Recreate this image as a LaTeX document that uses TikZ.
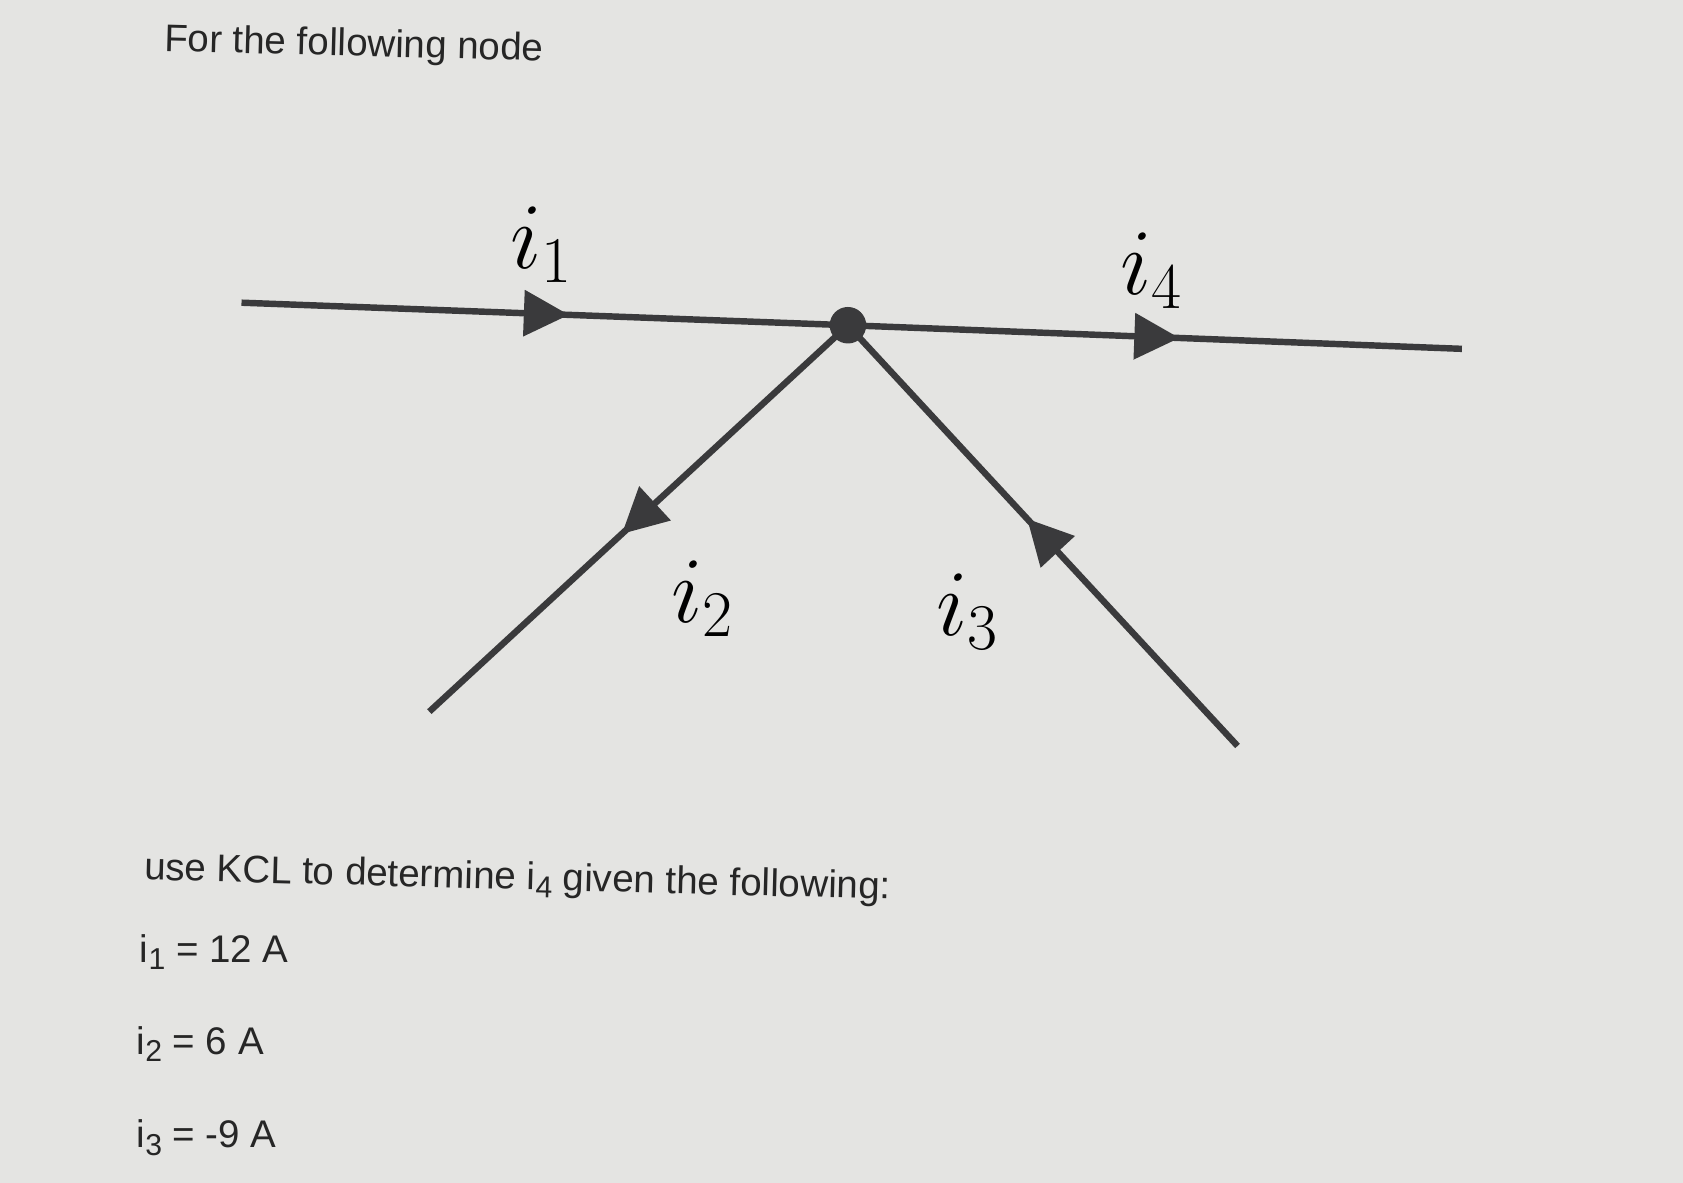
\documentclass[tikz,border=0pt]{standalone}
\usepackage{fontspec}
\setmainfont{Liberation Sans}
\usetikzlibrary{decorations.markings,arrows.meta}
\definecolor{wire}{HTML}{3A3A3C}
\definecolor{paper}{HTML}{E4E4E2}
\newcommand{\sbs}[1]{\raisebox{-0.35ex}{\fontsize{8}{9}\selectfont #1}}
\tikzset{
  px/.style={x=0.01cm,y=-0.01cm},
  wireline/.style={draw=wire,line width=0.06cm,
    postaction={decorate},decoration={markings,
      mark=at position 0.54 with {\arrow[wire]{Triangle[length=0.42cm,width=0.42cm]}}}},
  lbl/.style={font=\fontsize{23}{28}\selectfont},
  txt/.style={font=\fontsize{10.2}{12}\selectfont,anchor=west,rotate=-1.5,text=black!85}
}
\begin{document}
\begin{tikzpicture}[px]
\fill[paper] (0,0) rectangle (1568,1102);
\useasboundingbox (0,0) rectangle (1568,1102);
\coordinate (a) at (225,282);
\coordinate (b) at (1362,325);
\coordinate (c) at (400,663);
\coordinate (d) at (1153,695);
\node[circle,fill=wire,minimum size=0.34cm,inner sep=0] (n) at (790,303) {};
\path[wireline] (a) -- (n.center);
\path[wireline] (n.center) -- (b);
\path[wireline] (n.center) -- (c);
\path[wireline] (d) -- (n.center);
\node[lbl] (l1) at (505,228) {$i_1$};
\node[lbl] (l4) at (1073,252) {$i_4$};
\node[lbl] (l2) at (655,558) {$i_2$};
\node[lbl] (l3) at (902,570) {$i_3$};
\node[txt] (t0) at (141,38) {For the following node};
\node[txt] (t1) at (122,810) {use KCL to determine i\sbs{4} given the following:};
\node[txt,rotate=1.5] (t2) at (118,887) {i\sbs{1} = 12 A};
\node[txt,rotate=1.5] (t3) at (115,973) {i\sbs{2} = 6 A};
\node[txt,rotate=1.5] (t4) at (115,1060) {i\sbs{3} = -9 A};
\end{tikzpicture}
\end{document}
